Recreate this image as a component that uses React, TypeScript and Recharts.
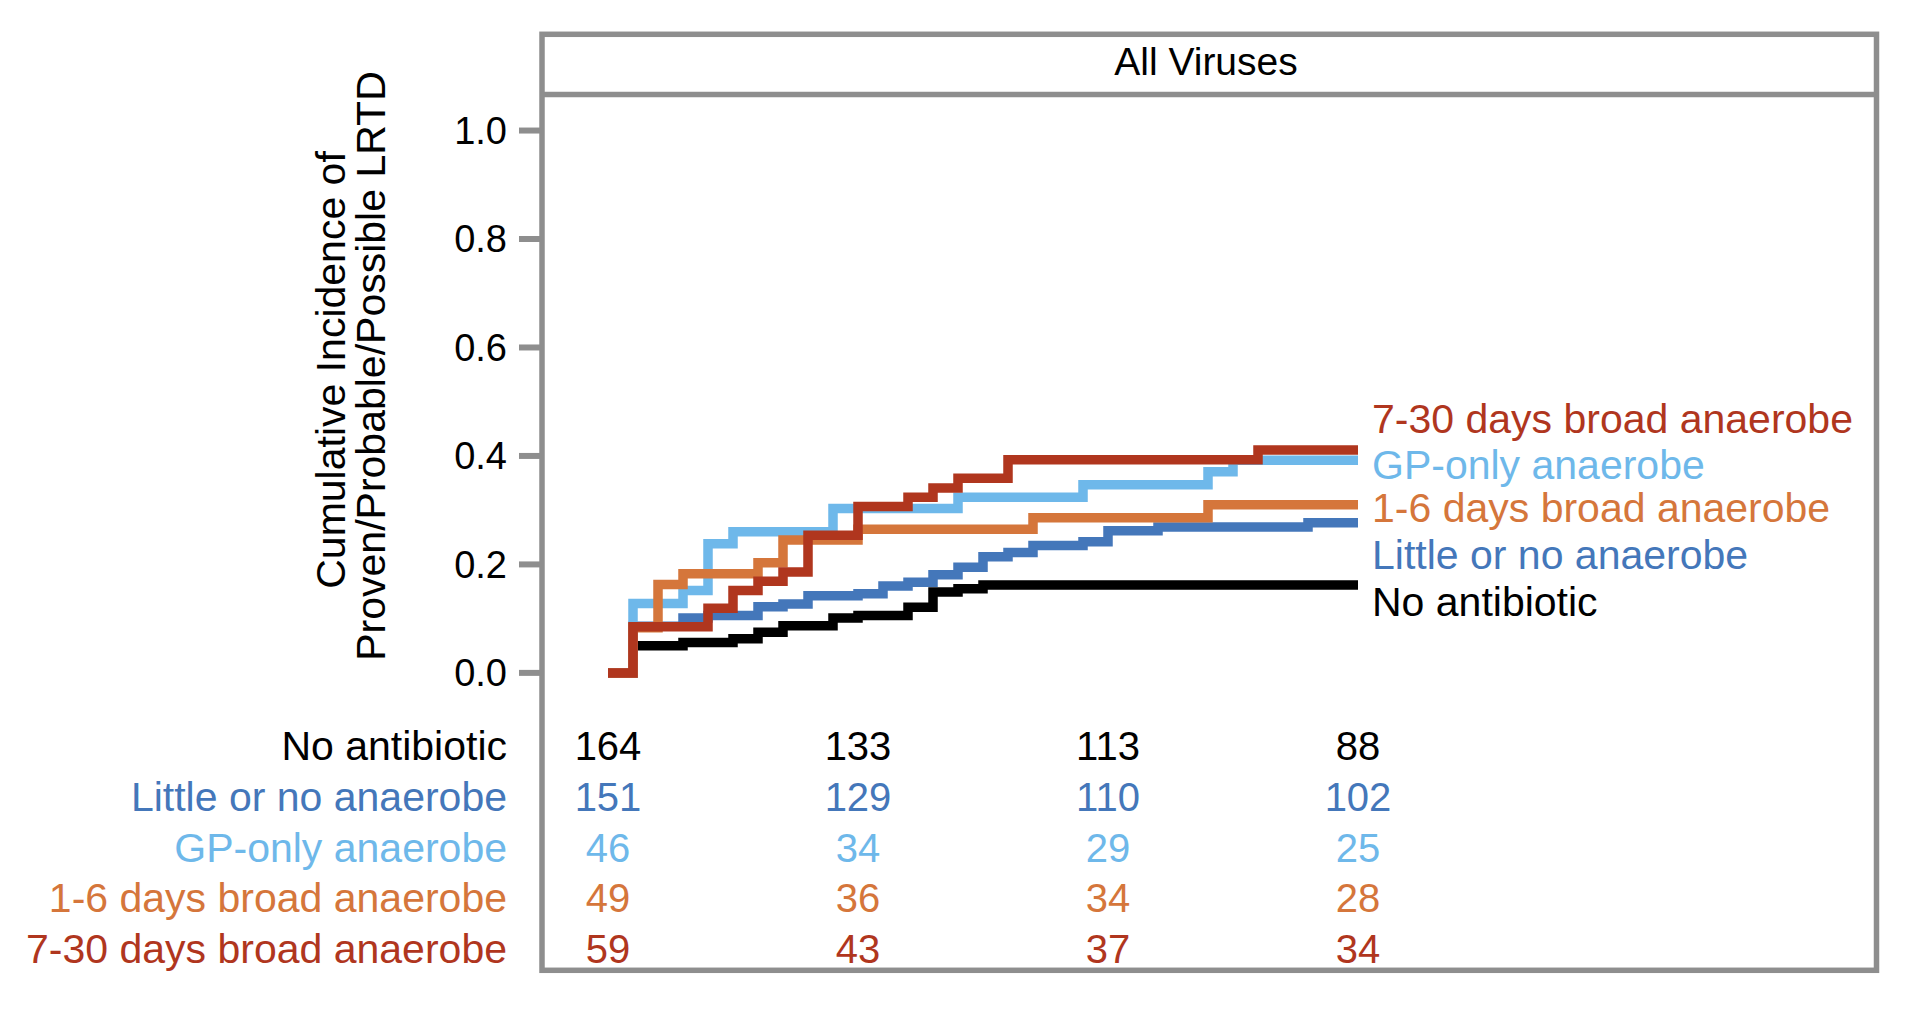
import { ComposedChart, Line, Scatter, XAxis, YAxis } from "recharts";

// cumulative incidence step curves (days since start)
const noAbxDays = [0, 3, 9, 15, 18, 21, 27, 30, 36, 39, 42, 45, 90];
const noAbxCif = [0, 0.05, 0.056, 0.063, 0.075, 0.087, 0.101, 0.106, 0.121, 0.149, 0.155, 0.162, 0.162];

const littleDays = [0, 3, 9, 12, 18, 21, 24, 30, 33, 36, 39, 42, 45, 48, 51, 57, 60, 66, 84, 90];
const littleCif = [0, 0.086, 0.101, 0.106, 0.122, 0.127, 0.142, 0.146, 0.16, 0.167, 0.181, 0.195, 0.214, 0.222, 0.235, 0.242, 0.262, 0.269, 0.277, 0.277];

const gpDays = [0, 3, 9, 12, 15, 27, 42, 57, 72, 75, 90];
const gpCif = [0, 0.128, 0.152, 0.238, 0.26, 0.303, 0.324, 0.347, 0.371, 0.392, 0.392];

const shortDays = [0, 3, 6, 9, 18, 21, 30, 51, 72, 90];
const shortCif = [0, 0.083, 0.163, 0.183, 0.203, 0.245, 0.265, 0.286, 0.31, 0.31];

const longDays = [0, 3, 12, 15, 18, 21, 24, 30, 36, 39, 42, 48, 78, 90];
const longCif = [0, 0.085, 0.119, 0.152, 0.169, 0.186, 0.254, 0.307, 0.324, 0.341, 0.359, 0.393, 0.411, 0.411];

// numbers at risk
const riskDays = [0, 30, 60, 90];
const noAbxAtRisk = [164, 133, 113, 88];
const littleAtRisk = [151, 129, 110, 102];
const gpAtRisk = [46, 34, 29, 25];
const shortAtRisk = [49, 36, 34, 28];
const longAtRisk = [59, 43, 37, 34];

const yTicks = [0, 0.2, 0.4, 0.6, 0.8, 1.0];

const FONT = "'Liberation Sans', Arial, Helvetica, sans-serif";
const GRAY = "#8e8e8e";

const series = [
  { name: "No antibiotic", days: noAbxDays, cif: noAbxCif, atRisk: noAbxAtRisk, color: "#000000", labelDy: 31 },
  { name: "Little or no anaerobe", days: littleDays, cif: littleCif, atRisk: littleAtRisk, color: "#4477ba", labelDy: 46 },
  { name: "GP-only anaerobe", days: gpDays, cif: gpCif, atRisk: gpAtRisk, color: "#6eb8ea", labelDy: 19 },
  { name: "1-6 days broad anaerobe", days: shortDays, cif: shortCif, atRisk: shortAtRisk, color: "#d5763b", labelDy: 17 },
  { name: "7-30 days broad anaerobe", days: longDays, cif: longCif, atRisk: longAtRisk, color: "#b0361e", labelDy: -17 },
];

const W = 1915;
const H = 1010;
const margins = { left: 442, right: 37 };
const xPadding = { left: 66, right: 520 };

function RiskRowTick(props: any) {
  const { x, y, payload } = props;
  const s = series[payload.value];
  if (!s) return null;
  return (
    <text x={x} y={y} textAnchor="end" dominantBaseline="central" fill={s.color} fontSize={41} fontFamily={FONT}>
      {s.name}
    </text>
  );
}

export default function App() {
  return (
    <div style={{ position: "absolute", left: 0, top: 0, width: W, height: H, background: "#fff", fontFamily: FONT }}>
      <div style={{ position: "absolute", left: 0, top: 0 }}>
        <ComposedChart width={W} height={H} margin={{ top: 98, bottom: H - 700, ...margins }}>
          <XAxis dataKey="t" type="number" domain={[0, 90]} padding={xPadding} hide />
          <YAxis
            type="number"
            domain={[-0.05, 1.06]}
            ticks={yTicks}
            interval={0}
            width={100}
            axisLine={false}
            tickLine={{ stroke: GRAY, strokeWidth: 6 }}
            tickSize={23}
            tickMargin={12}
            tickFormatter={(v: number) => v.toFixed(1)}
            tick={{ fill: "#000", fontSize: 38, fontFamily: FONT }}
          />
          {series.map((s) => (
            <Line
              key={s.name}
              data={s.days.map((t, i) => ({ t, v: s.cif[i] }))}
              dataKey="v"
              type="stepAfter"
              stroke={s.color}
              strokeWidth={9.5}
              strokeLinejoin="miter"
              strokeLinecap="butt"
              dot={false}
              activeDot={false}
              isAnimationActive={false}
            />
          ))}
          {series.map((s) => (
            <Scatter
              key={s.name + "-label"}
              data={[{ t: s.days[s.days.length - 1], v: s.cif[s.cif.length - 1] }]}
              dataKey="v"
              isAnimationActive={false}
              shape={(p: any) => (
                <text x={p.cx + 14} y={p.cy + s.labelDy} fill={s.color} fontSize={41} fontFamily={FONT}>
                  {s.name}
                </text>
              )}
            />
          ))}
        </ComposedChart>
      </div>

      <div style={{ position: "absolute", left: 0, top: 0 }}>
        <ComposedChart width={W} height={H} margin={{ top: 720.6, bottom: H - 974.4, ...margins }}>
          <XAxis dataKey="t" type="number" domain={[0, 90]} padding={xPadding} hide />
          <YAxis
            type="number"
            domain={[-0.5, 4.5]}
            reversed
            ticks={[0, 1, 2, 3, 4]}
            interval={0}
            width={100}
            axisLine={false}
            tickLine={false}
            tickSize={23}
            tickMargin={12}
            tick={<RiskRowTick />}
          />
          {series.map((s, gi) => (
            <Scatter
              key={s.name + "-risk"}
              data={riskDays.map((t, i) => ({ t, row: gi, n: s.atRisk[i] }))}
              dataKey="row"
              isAnimationActive={false}
              shape={(p: any) => (
                <text x={p.cx} y={p.cy} textAnchor="middle" dominantBaseline="central" fill={s.color} fontSize={40} fontFamily={FONT}>
                  {p.payload.n}
                </text>
              )}
            />
          ))}
        </ComposedChart>
      </div>

      <svg width={W} height={H} style={{ position: "absolute", left: 0, top: 0, pointerEvents: "none" }}>
        <rect x={542} y={34.3} width={1334.5} height={936} fill="none" stroke={GRAY} strokeWidth={5.5} />
        <line x1={542} x2={1876.5} y1={94.5} y2={94.5} stroke={GRAY} strokeWidth={5.5} />
        <text x={1206} y={75} textAnchor="middle" fontSize={39} fontFamily={FONT} fill="#000">
          All Viruses
        </text>
        <text transform="translate(345, 370) rotate(-90)" textAnchor="middle" fontSize={41} fontFamily={FONT} fill="#000">
          Cumulative Incidence of
        </text>
        <text transform="translate(385, 366) rotate(-90)" textAnchor="middle" fontSize={41} fontFamily={FONT} fill="#000">
          Proven/Probable/Possible LRTD
        </text>
      </svg>
    </div>
  );
}
